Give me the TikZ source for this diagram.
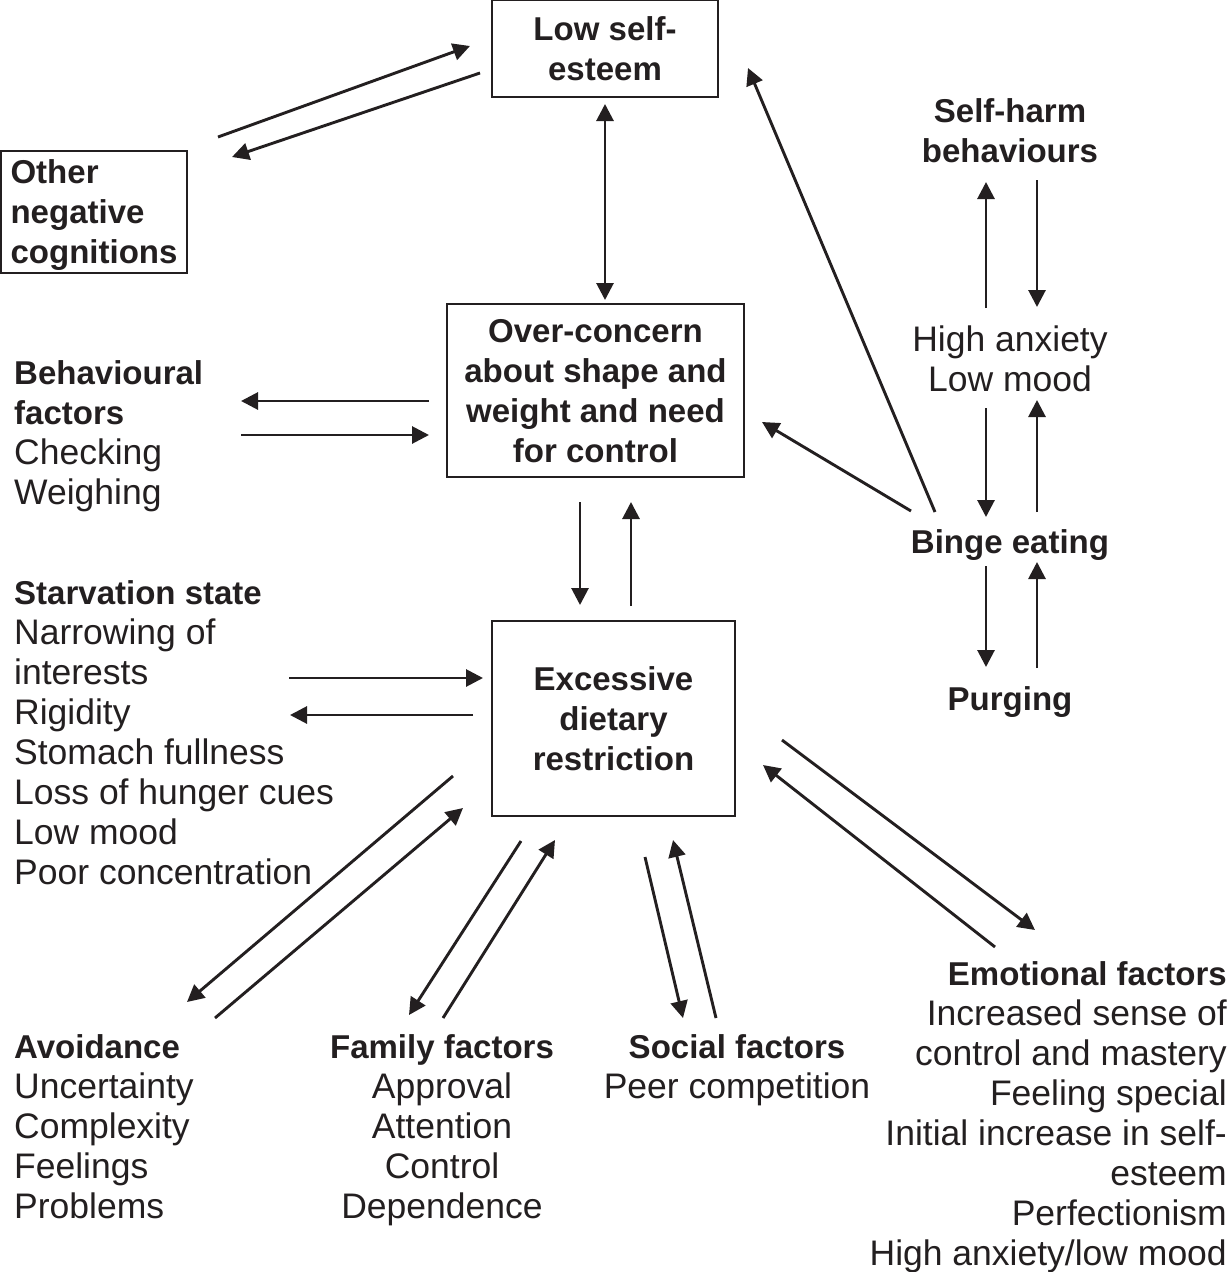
\documentclass[tikz,border=0pt]{standalone}
\usepackage{fontspec}
\setmainfont{Liberation Sans}[BoldFeatures={Scale=0.93}]
\usetikzlibrary{arrows.meta}
\definecolor{ink}{HTML}{231F20}
\begin{document}
\begin{tikzpicture}[x=1pt,y=-1pt,
  every node/.style={text=ink, inner sep=0pt, font=\fontsize{35.5}{40}\selectfont},
  box/.style={draw=ink, line width=2pt, font=\fontsize{35.5}{40}\selectfont\bfseries, text depth=0pt},
  lbl/.style={anchor=north},
  tip/.tip={Triangle[length=17pt,width=17pt]},
  arr/.style={draw=ink, line width=2.9pt, -tip},
  darr/.style={draw=ink, line width=2.9pt, tip-tip},
]
\useasboundingbox (0,0) rectangle (1228,1272);

% boxes
\node[box, align=center, minimum width=226, minimum height=97] (lse) at (605,48.5) {Low self-\\esteem};
\node[box, align=left, minimum width=186, minimum height=122] (oth) at (94,212) {Other\\negative\\cognitions};
\node[box, align=center, minimum width=297, minimum height=173] (ovc) at (595.5,390.5) {Over-concern\\about shape and\\weight and need\\for control};
\node[box, align=center, minimum width=243, minimum height=195] (edr) at (613.5,718.5) {Excessive\\dietary\\restriction};

% text blocks
\node[lbl, align=center] (shb) at (1010,98) {\textbf{Self-harm}\\\textbf{behaviours}};
\node[lbl, align=center] (anx) at (1010,326) {High anxiety\\Low mood};
\node[lbl, align=center] (bin) at (1010,529) {\textbf{Binge eating}};
\node[lbl, align=center] (pur) at (1010,686) {\textbf{Purging}};
\node[lbl, anchor=north west, align=left] (beh) at (14,360) {\textbf{Behavioural}\\\textbf{factors}\\Checking\\Weighing};
\node[lbl, anchor=north west, align=left] (sta) at (14,580) {\textbf{Starvation state}\\Narrowing of\\interests\\Rigidity\\Stomach fullness\\Loss of hunger cues\\Low mood\\Poor concentration};
\node[lbl, anchor=north west, align=left] (avo) at (14,1034) {\textbf{Avoidance}\\Uncertainty\\Complexity\\Feelings\\Problems};
\node[lbl, align=center] (fam) at (442,1034) {\textbf{Family factors}\\Approval\\Attention\\Control\\Dependence};
\node[lbl, align=center] (soc) at (737,1034) {\textbf{Social factors}\\Peer competition};
\node[lbl, anchor=north east, align=right] (emo) at (1227,961) {\textbf{Emotional factors}\\Increased sense of\\control and mastery\\Feeling special\\Initial increase in self-\\esteem\\Perfectionism\\High anxiety/low mood};

% connector end points
\coordinate (oth-a) at (218,137);  \coordinate (lse-a) at (470,46);
\coordinate (lse-b) at (480,73);   \coordinate (oth-b) at (232,157);
\coordinate (lse-c) at (605,104);  \coordinate (ovc-c) at (605,300);
\coordinate (ovc-d) at (429,401);  \coordinate (beh-d) at (241,401);
\coordinate (beh-e) at (241,435);  \coordinate (ovc-e) at (429,435);
\coordinate (ovc-f) at (580,502);  \coordinate (edr-f) at (580,605);
\coordinate (edr-g) at (631,606);  \coordinate (ovc-g) at (631,502);
\coordinate (sta-h) at (289,678);  \coordinate (edr-h) at (483,678);
\coordinate (edr-i) at (473,715);  \coordinate (sta-i) at (290,715);
\coordinate (edr-j) at (453,776);  \coordinate (avo-j) at (187,1002);
\coordinate (avo-k) at (215,1018); \coordinate (edr-k) at (463,808);
\coordinate (edr-l) at (521,841);  \coordinate (fam-l) at (409,1015);
\coordinate (fam-m) at (443,1018); \coordinate (edr-m) at (555,840);
\coordinate (edr-n) at (645,857);  \coordinate (soc-n) at (683,1018);
\coordinate (soc-o) at (716,1018); \coordinate (edr-o) at (673,840);
\coordinate (edr-p) at (782,740);  \coordinate (emo-p) at (1035,930);
\coordinate (emo-q) at (995,947);  \coordinate (edr-q) at (763,765);
\coordinate (bin-r) at (911,511);  \coordinate (ovc-r) at (762,422);
\coordinate (bin-s) at (935,512);  \coordinate (lse-s) at (748,68);
\coordinate (anx-t) at (986,308);  \coordinate (shb-t) at (986,182);
\coordinate (shb-u) at (1037,180); \coordinate (anx-u) at (1037,307);
\coordinate (anx-v) at (986,408);  \coordinate (bin-v) at (986,517);
\coordinate (bin-w) at (1037,512); \coordinate (anx-w) at (1037,400);
\coordinate (bin-x) at (986,566);  \coordinate (pur-x) at (986,667);
\coordinate (pur-y) at (1037,668); \coordinate (bin-y) at (1037,562);

% connectors
\draw[arr] (oth-a) -- (lse-a);
\draw[arr] (lse-b) -- (oth-b);
\draw[darr] (lse-c) -- (ovc-c);
\draw[arr] (ovc-d) -- (beh-d);
\draw[arr] (beh-e) -- (ovc-e);
\draw[arr] (ovc-f) -- (edr-f);
\draw[arr] (edr-g) -- (ovc-g);
\draw[arr] (sta-h) -- (edr-h);
\draw[arr] (edr-i) -- (sta-i);
\draw[arr] (edr-j) -- (avo-j);
\draw[arr] (avo-k) -- (edr-k);
\draw[arr] (edr-l) -- (fam-l);
\draw[arr] (fam-m) -- (edr-m);
\draw[arr] (edr-n) -- (soc-n);
\draw[arr] (soc-o) -- (edr-o);
\draw[arr] (edr-p) -- (emo-p);
\draw[arr] (emo-q) -- (edr-q);
\draw[arr] (bin-r) -- (ovc-r);
\draw[arr] (bin-s) -- (lse-s);
\draw[arr] (anx-t) -- (shb-t);
\draw[arr] (shb-u) -- (anx-u);
\draw[arr] (anx-v) -- (bin-v);
\draw[arr] (bin-w) -- (anx-w);
\draw[arr] (bin-x) -- (pur-x);
\draw[arr] (pur-y) -- (bin-y);
\end{tikzpicture}
\end{document}
